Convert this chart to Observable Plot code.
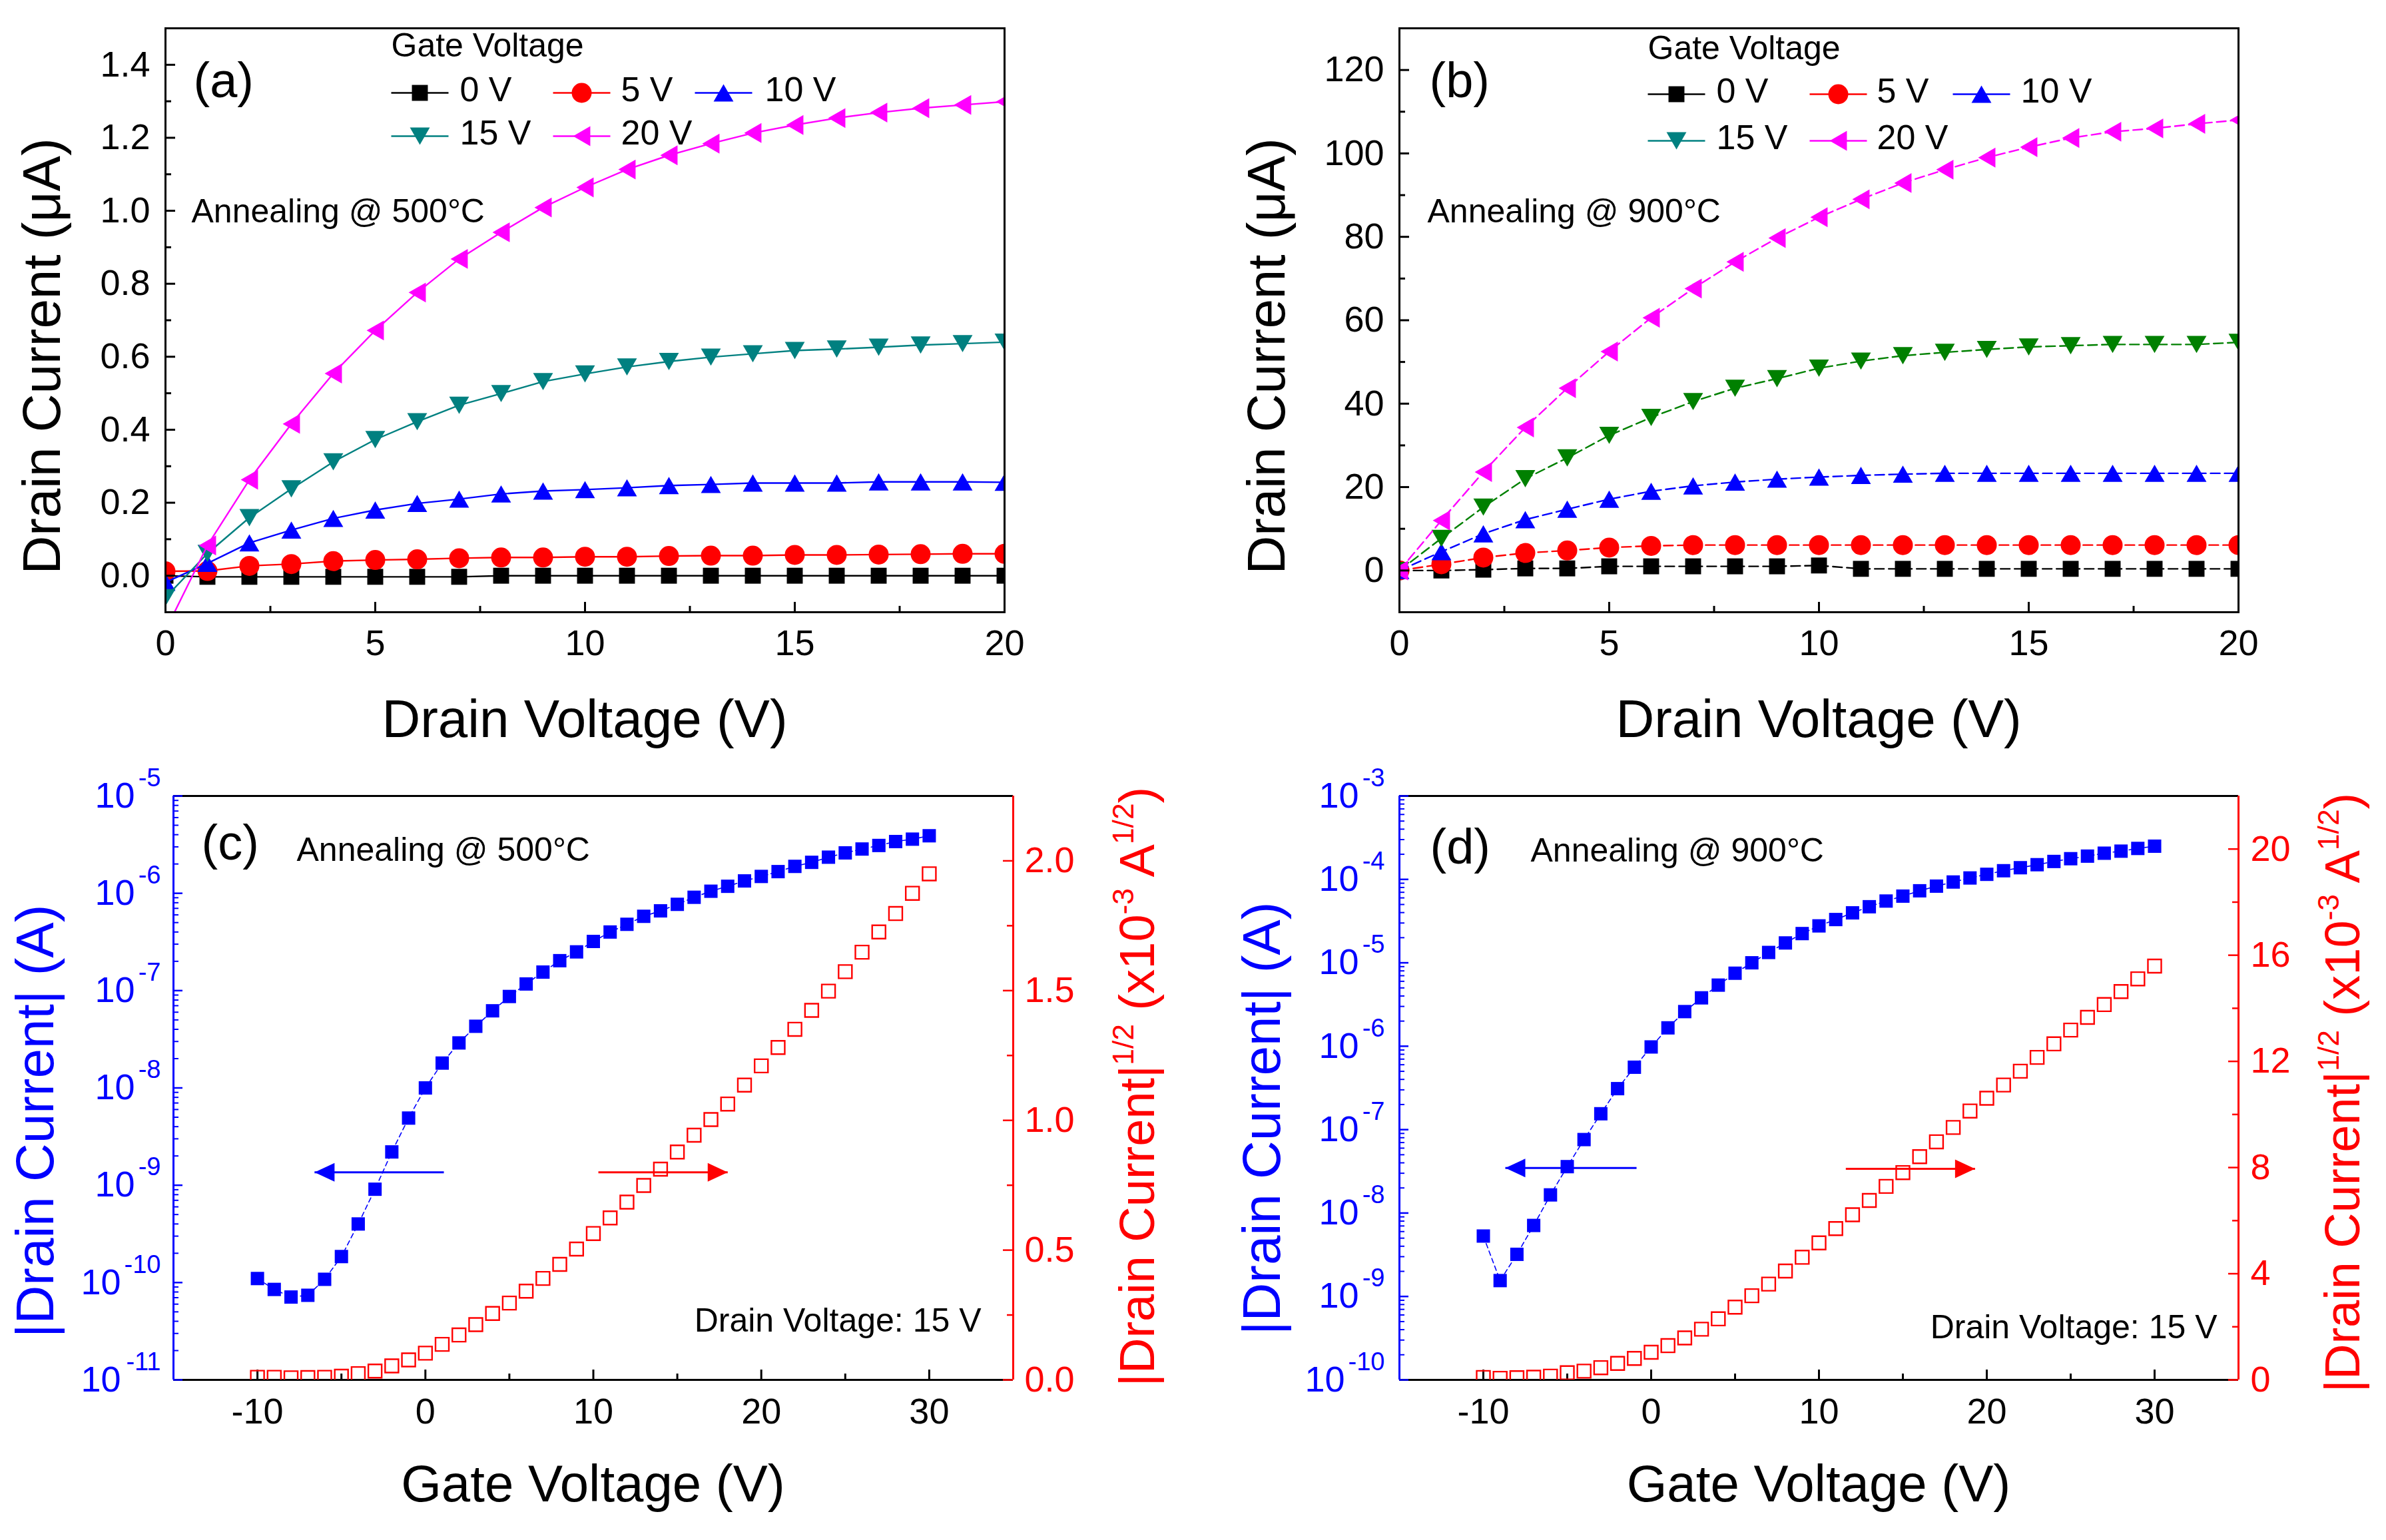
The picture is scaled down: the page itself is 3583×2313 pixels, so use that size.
<!DOCTYPE html>
<html><head><meta charset="utf-8">
<script src="https://cdn.jsdelivr.net/npm/d3@7"></script>
<script src="https://cdn.jsdelivr.net/npm/@observablehq/plot@0.6"></script>
<style>
html,body{margin:0;padding:0;background:#fff;overflow:hidden}
#fig{position:relative;width:3583px;height:2313px;background:#fff}
</style>
</head><body><div id="fig"></div>
<script>
const FONT = '"Liberation Sans", Arial, Helvetica, sans-serif';

// ---------------- data ----------------
const drainVoltage = [0,1,2,3,4,5,6,7,8,9,10,11,12,13,14,15,16,17,18,19,20];
const gateSeries = ["0 V","5 V","10 V","15 V","20 V"];
// (a) annealing 500 °C, drain current in µA
const a0V  = [0,-0.003,-0.003,-0.003,-0.003,-0.003,-0.003,-0.003,0,0,0,0,0,0,0,0,0,0,0,0,0];
const a5V  = [0.012,0.013,0.027,0.032,0.040,0.043,0.045,0.048,0.050,0.050,0.052,0.052,0.054,0.055,0.055,0.057,0.057,0.058,0.059,0.060,0.060];
const a10V = [-0.018,0.034,0.090,0.125,0.157,0.180,0.198,0.210,0.224,0.232,0.236,0.241,0.247,0.250,0.254,0.254,0.254,0.257,0.257,0.257,0.256];
const a15V = [-0.06,0.061,0.159,0.238,0.312,0.373,0.422,0.467,0.499,0.532,0.553,0.572,0.587,0.599,0.608,0.617,0.621,0.626,0.632,0.636,0.640];
const a20V = [-0.15,0.083,0.263,0.416,0.554,0.672,0.776,0.868,0.941,1.009,1.064,1.113,1.152,1.184,1.213,1.235,1.254,1.269,1.281,1.290,1.299];
// (b) annealing 900 °C, drain current in µA
const b0V  = [0,0,0.2,0.5,0.5,1.0,1.0,1.0,1.0,1.0,1.2,0.4,0.4,0.4,0.4,0.4,0.4,0.4,0.4,0.4,0.4];
const b5V  = [0,1.5,3.1,4.2,4.8,5.5,5.9,6.1,6.1,6.1,6.1,6.1,6.1,6.1,6.1,6.1,6.1,6.1,6.1,6.1,6.1];
const b10V = [0,4.5,8.8,12.2,14.7,17.1,19.0,20.3,21.2,21.9,22.4,22.8,23.1,23.3,23.3,23.3,23.3,23.3,23.3,23.3,23.3];
const b15V = [0,7.7,15.2,22.0,27.0,32.4,36.7,40.5,43.7,46.0,48.5,50.2,51.5,52.3,53.0,53.6,53.9,54.2,54.2,54.2,54.7];
const b20V = [0,12.0,23.6,34.3,43.7,52.5,60.6,67.6,74.0,79.7,84.7,89.0,92.9,96.1,99.0,101.5,103.7,105.2,106.0,107.1,108.0];

const gateVoltage = [-10,-9,-8,-7,-6,-5,-4,-3,-2,-1,0,1,2,3,4,5,6,7,8,9,10,11,12,13,14,15,16,17,18,19,20,21,22,23,24,25,26,27,28,29,30];
// (c) |Id| (A) and |Id|^1/2 (x1e-3 A^1/2)
const cAbsCurrent = [1.1e-10,8.5e-11,7.1e-11,7.4e-11,1.08e-10,1.85e-10,4.0e-10,9.1e-10,2.2e-9,4.9e-9,1.0e-8,1.8e-8,2.9e-8,4.3e-8,6.2e-8,8.7e-8,1.17e-7,1.55e-7,2.03e-7,2.5e-7,3.2e-7,4.0e-7,4.8e-7,5.8e-7,6.6e-7,7.7e-7,9.1e-7,1.05e-6,1.18e-6,1.34e-6,1.49e-6,1.67e-6,1.89e-6,2.08e-6,2.35e-6,2.6e-6,2.85e-6,3.1e-6,3.4e-6,3.6e-6,3.9e-6];
const cSqrtCurrent = [0.01,0.01,0.008,0.009,0.01,0.014,0.024,0.034,0.054,0.077,0.103,0.137,0.173,0.213,0.256,0.296,0.342,0.391,0.445,0.504,0.564,0.624,0.685,0.749,0.812,0.878,0.943,1.003,1.063,1.136,1.21,1.281,1.351,1.424,1.498,1.573,1.648,1.726,1.797,1.875,1.95];
// (d)
const dAbsCurrent = [5.3e-9,1.55e-9,3.2e-9,7.1e-9,1.65e-8,3.6e-8,7.6e-8,1.55e-7,3.1e-7,5.6e-7,9.8e-7,1.66e-6,2.6e-6,3.8e-6,5.4e-6,7.5e-6,1.0e-5,1.33e-5,1.73e-5,2.24e-5,2.77e-5,3.3e-5,3.97e-5,4.7e-5,5.5e-5,6.3e-5,7.3e-5,8.3e-5,9.3e-5,1.04e-4,1.15e-4,1.27e-4,1.38e-4,1.5e-4,1.64e-4,1.77e-4,1.9e-4,2.06e-4,2.18e-4,2.35e-4,2.5e-4];
const dSqrtCurrent = [0.09,0.06,0.08,0.1,0.14,0.27,0.33,0.46,0.62,0.81,1.04,1.29,1.58,1.91,2.30,2.74,3.17,3.61,4.10,4.62,5.16,5.70,6.22,6.76,7.29,7.81,8.41,8.97,9.51,10.13,10.61,11.11,11.63,12.15,12.66,13.18,13.66,14.14,14.63,15.11,15.59];

// arrows (data coordinates)
const cArrowLeft  = {from: 1.1,  to: -6.6, level: 1.36e-9};
const cArrowRight = {from: 10.3, to: 18.0, level: 0.80};
const dArrowLeft  = {from: -0.87, to: -8.69, level: 3.47e-8};
const dArrowRight = {from: 11.6, to: 19.3, level: 7.95};

// ticks
const ivXTicks = [0,5,10,15,20];
const ivXMinor = [2.5,7.5,12.5,17.5];
const aYTicks = [0,0.2,0.4,0.6,0.8,1.0,1.2,1.4];
const aYTickLabels = ["0.0","0.2","0.4","0.6","0.8","1.0","1.2","1.4"];
const aYMinor = [0.1,0.3,0.5,0.7,0.9,1.1,1.3];
const bYTicks = [0,20,40,60,80,100,120];
const bYTickLabels = ["0","20","40","60","80","100","120"];
const bYMinor = [10,30,50,70,90,110];
const tfXTicks = [-10,0,10,20,30];
const tfXMinor = [-5,5,15,25];
const cLogExponents = [-11,-10,-9,-8,-7,-6,-5];
const dLogExponents = [-10,-9,-8,-7,-6,-5,-4,-3];
const cRightTicks = [0,0.5,1.0,1.5,2.0];
const cRightLabels = ["0.0","0.5","1.0","1.5","2.0"];
const cRightMinor = [0.25,0.75,1.25,1.75];
const dRightTicks = [0,4,8,12,16,20];
const dRightLabels = ["0","4","8","12","16","20"];
const dRightMinor = [2,6,10,14,18];

// ---------------- symbols ----------------
function triDims(size){ const r = Math.sqrt(size/Math.PI); const a = 2.3*r; return [a, 0.866*a]; }
const triUp = {draw(c,s){const [a,h]=triDims(s); c.moveTo(0,-h/2); c.lineTo(a/2,h/2); c.lineTo(-a/2,h/2); c.closePath();}};
const triDown = {draw(c,s){const [a,h]=triDims(s); c.moveTo(0,h/2); c.lineTo(a/2,-h/2); c.lineTo(-a/2,-h/2); c.closePath();}};
const triLeft = {draw(c,s){const [a,h]=triDims(s); c.moveTo(-h/2,0); c.lineTo(h/2,-a/2); c.lineTo(h/2,a/2); c.closePath();}};
const headLeft = {draw(c){c.moveTo(0,0); c.lineTo(30,-14); c.lineTo(30,14); c.closePath();}};
const headRight = {draw(c){c.moveTo(0,0); c.lineTo(-30,-14); c.lineTo(-30,14); c.closePath();}};
const legendLine = {draw(c){c.moveTo(-43,0); c.lineTo(43,0);}};

const seriesStyle = {
  "0 V":  {color:"#000000", symbol:"square", r:13.5},
  "5 V":  {color:"#ff0000", symbol:"circle", r:15},
  "10 V": {color:"#0000ff", symbol:triUp, r:13},
  "15 V": {color:"#008080", symbol:triDown, r:13},
  "20 V": {color:"#ff00ff", symbol:triLeft, r:13}
};

const fig = document.getElementById("fig");

function addTitle(svg, {x, y, rotate = 0, size, fill = "#000", parts}) {
  const t = d3.select(svg).append("text")
    .attr("transform", `translate(${x},${y})` + (rotate ? ` rotate(${rotate})` : ""))
    .attr("text-anchor", "middle").attr("font-size", size).attr("fill", fill)
    .attr("font-family", FONT);
  let raised = false;
  const shift = size * 0.42;
  for (const p of parts) {
    const ts = t.append("tspan").text(p.t);
    if (p.sup && !raised) { ts.attr("dy", -shift); raised = true; }
    else if (!p.sup && raised) { ts.attr("dy", shift); raised = false; }
    ts.attr("font-size", p.sup ? size * 0.6 : size);
  }
}

function place(svg, left, top) {
  svg.style.position = "absolute";
  svg.style.left = left + "px";
  svg.style.top = top + "px";
  fig.appendChild(svg);
}

// ---------------- output panels ----------------
function ivPanel(p) {
  const fw = p.width - p.margin.left - p.margin.right;
  const fh = p.height - p.margin.top - p.margin.bottom;
  const marks = [];
  gateSeries.forEach((name, k) => {
    const st = seriesStyle[name];
    const col = (p.curveColor && p.curveColor[name]) || st.color;
    const rows = drainVoltage.map((v, i) => ({vd: v, id: p.values[k][i]}));
    marks.push(Plot.line(rows, {x: "vd", y: "id", stroke: col, strokeWidth: 2.4, strokeDasharray: p.dash, clip: true}));
    marks.push(Plot.dot(rows, {x: "vd", y: "id", symbol: st.symbol, r: st.r, fill: col, stroke: "none", clip: true}));
  });
  marks.push(Plot.frame({stroke: "#000", strokeWidth: 3}));
  marks.push(Plot.ruleY(p.yTicks, {y: d => d, stroke: "#000", strokeWidth: 3, insetRight: fw - 15}));
  marks.push(Plot.ruleY(p.yMinor, {y: d => d, stroke: "#000", strokeWidth: 3, insetRight: fw - 9}));
  marks.push(Plot.ruleX(ivXTicks, {x: d => d, stroke: "#000", strokeWidth: 3, insetTop: fh - 15}));
  marks.push(Plot.ruleX(ivXMinor, {x: d => d, stroke: "#000", strokeWidth: 3, insetTop: fh - 9}));
  marks.push(Plot.text(p.yTicks, {y: d => d, frameAnchor: "left", text: (d, i) => p.yTickLabels[i], textAnchor: "end", lineAnchor: "middle", dx: -23, fontSize: 54, fill: "#000"}));
  marks.push(Plot.text(ivXTicks, {x: d => d, frameAnchor: "bottom", text: d => String(d), lineAnchor: "top", dy: 26, fontSize: 54, fill: "#000"}));
  // annotations
  marks.push(Plot.text([p.tag], {frameAnchor: "top-left", text: d => d, textAnchor: "start", lineAnchor: "middle", dx: p.tagDx, dy: 80, fontSize: 74, fill: "#000"}));
  marks.push(Plot.text([p.anneal], {frameAnchor: "top-left", text: d => d, textAnchor: "start", lineAnchor: "middle", dx: p.annealDx, dy: 275, fontSize: 50, fill: "#000"}));
  // legend
  const L = p.legend;
  marks.push(Plot.text(["Gate Voltage"], {frameAnchor: "top-left", text: d => d, textAnchor: "start", lineAnchor: "middle", dx: L.titleDx, dy: L.titleDy, fontSize: 50, fill: "#000"}));
  gateSeries.forEach((name, k) => {
    const st = seriesStyle[name];
    const col = k < 3 ? k : k - 3, row = k < 3 ? 0 : 1;
    const cx = L.colCenter[col], cy = L.rowY[row];
    marks.push(Plot.dot([name], {frameAnchor: "top-left", dx: cx, dy: cy, symbol: legendLine, stroke: st.color, fill: "none", strokeWidth: 2.4}));
    marks.push(Plot.dot([name], {frameAnchor: "top-left", dx: cx, dy: cy, symbol: st.symbol, r: st.r, fill: st.color, stroke: "none"}));
    marks.push(Plot.text([name], {frameAnchor: "top-left", text: d => d, textAnchor: "start", lineAnchor: "middle", dx: L.colText[col], dy: cy - 4, fontSize: 52, fill: "#000"}));
  });
  const svg = Plot.plot({
    width: p.width, height: p.height,
    marginTop: p.margin.top, marginRight: p.margin.right, marginBottom: p.margin.bottom, marginLeft: p.margin.left,
    x: {domain: [0, 20], axis: null},
    y: {domain: p.yDomain, axis: null},
    style: {fontFamily: FONT, background: "transparent", overflow: "visible"},
    marks
  });
  place(svg, p.left, p.top);
  addTitle(svg, {x: p.yTitleX, y: 535, rotate: -90, size: 80, parts: [{t: "Drain Current (μA)"}]});
  addTitle(svg, {x: p.margin.left + fw / 2, y: 1107, size: 80, parts: [{t: "Drain Voltage (V)"}]});
}

ivPanel({
  left: 0, top: 0, width: 1790, height: 1150,
  margin: {top: 42, right: 282, bottom: 231, left: 248},
  values: [a0V, a5V, a10V, a15V, a20V],
  yDomain: [-0.1, 1.5], yTicks: aYTicks, yTickLabels: aYTickLabels, yMinor: aYMinor,
  dash: null, tag: "(a)", tagDx: 42, anneal: "Annealing @ 500°C", annealDx: 39,
  legend: {titleDx: 339, titleDy: 26, rowY: [97, 162], colCenter: [382, 625, 838], colText: [442, 684, 900]},
  yTitleX: 90
});
ivPanel({
  left: 1790, top: 0, width: 1793, height: 1150,
  margin: {top: 42, right: 222, bottom: 231, left: 311},
  values: [b0V, b5V, b10V, b15V, b20V],
  yDomain: [-10, 130], yTicks: bYTicks, yTickLabels: bYTickLabels, yMinor: bYMinor,
  dash: "14,7", curveColor: {"15 V": "#008000"},
  tag: "(b)", tagDx: 45, anneal: "Annealing @ 900°C", annealDx: 42,
  legend: {titleDx: 373, titleDy: 30, rowY: [99, 169], colCenter: [416, 659, 874], colText: [476, 717, 933]},
  yTitleX: 1929 - 1790
});

// ---------------- transfer panels ----------------
function tfPanel(p) {
  const fw = p.width - p.margin.left - p.margin.right;
  const fh = p.height - p.margin.top - p.margin.bottom;
  const blue = "#0000ff", red = "#ff0000";
  const [e0, e1] = [p.exponents[0], p.exponents[p.exponents.length - 1]];
  const minor = [];
  for (let e = e0; e < e1; e++) for (let m = 2; m <= 9; m++) minor.push(m * Math.pow(10, e));
  const rows = gateVoltage.map((v, i) => ({vg: v, id: p.abs[i], sq: p.sqrt[i]}));
  const common = {
    width: p.width, height: p.height,
    marginTop: p.margin.top, marginRight: p.margin.right, marginBottom: p.margin.bottom, marginLeft: p.margin.left,
    x: {domain: [-15, 35], axis: null},
    style: {fontFamily: FONT, background: "transparent", overflow: "visible"}
  };
  const oneDigit = p.exponents.filter(e => e > -10);
  const twoDigit = p.exponents.filter(e => e <= -10);
  const logSvg = Plot.plot({
    ...common,
    y: {type: "log", domain: [Math.pow(10, e0), Math.pow(10, e1)], axis: null},
    marks: [
      Plot.line(rows, {x: "vg", y: "id", stroke: blue, strokeWidth: 1.6, strokeDasharray: "7,5", clip: true}),
      Plot.dot(rows, {x: "vg", y: "id", symbol: "square", r: 11.3, fill: blue, stroke: "none", clip: true}),
      Plot.link([p.arrowL], {x1: d => d.from, x2: d => d.to, y1: d => d.level, y2: d => d.level, stroke: blue, strokeWidth: 3}),
      Plot.dot([p.arrowL], {x: d => d.to, y: d => d.level, symbol: headLeft, fill: blue, stroke: "none"}),
      Plot.ruleY([Math.pow(10, e0), Math.pow(10, e1)], {y: d => d, stroke: "#000", strokeWidth: 3}),
      Plot.ruleX([-15], {x: d => d, stroke: blue, strokeWidth: 3}),
      Plot.ruleY(p.exponents.map(e => Math.pow(10, e)), {y: d => d, stroke: blue, strokeWidth: 2.5, insetRight: fw - 14}),
      Plot.ruleY(minor, {y: d => d, stroke: blue, strokeWidth: 2, insetRight: fw - 8}),
      Plot.ruleX(tfXTicks, {x: d => d, stroke: "#000", strokeWidth: 3, insetTop: fh - 15}),
      Plot.ruleX(tfXMinor, {x: d => d, stroke: "#000", strokeWidth: 3, insetTop: fh - 9}),
      Plot.text(tfXTicks, {x: d => d, frameAnchor: "bottom", text: d => String(d), lineAnchor: "top", dy: 27, fontSize: 54, fill: "#000"}),
      Plot.text(p.exponents, {y: e => Math.pow(10, e), frameAnchor: "left", text: e => String(e), textAnchor: "end", lineAnchor: "middle", dx: p.labDx, dy: -27, fontSize: 38, fill: blue}),
      Plot.text(oneDigit, {y: e => Math.pow(10, e), frameAnchor: "left", text: () => "10", textAnchor: "end", lineAnchor: "middle", dx: p.labDx - 39, fontSize: 54, fill: blue}),
      Plot.text(twoDigit, {y: e => Math.pow(10, e), frameAnchor: "left", text: () => "10", textAnchor: "end", lineAnchor: "middle", dx: p.labDx - 60, fontSize: 54, fill: blue}),
      Plot.text([p.tag], {frameAnchor: "top-left", text: d => d, textAnchor: "start", lineAnchor: "middle", dx: p.tagDx, dy: p.tagDy, fontSize: 74, fill: "#000"}),
      Plot.text([p.anneal], {frameAnchor: "top-left", text: d => d, textAnchor: "start", lineAnchor: "middle", dx: p.annealDx, dy: p.annealDy, fontSize: 50, fill: "#000"}),
      Plot.text(["Drain Voltage: 15 V"], {frameAnchor: "bottom-right", text: d => d, textAnchor: "end", lineAnchor: "middle", dx: p.vdDx, dy: p.vdDy, fontSize: 50, fill: "#000"})
    ]
  });
  const linSvg = Plot.plot({
    ...common,
    y: {domain: p.rightDomain, axis: null},
    marks: [
      Plot.dot(rows, {x: "vg", y: "sq", symbol: "square", r: 11.3, fill: "none", stroke: red, strokeWidth: 2.4, clip: true}),
      Plot.link([p.arrowR], {x1: d => d.from, x2: d => d.to, y1: d => d.level, y2: d => d.level, stroke: red, strokeWidth: 3}),
      Plot.dot([p.arrowR], {x: d => d.to, y: d => d.level, symbol: headRight, fill: red, stroke: "none"}),
      Plot.ruleX([35], {x: d => d, stroke: red, strokeWidth: 3}),
      Plot.ruleY(p.rightTicks, {y: d => d, stroke: red, strokeWidth: 2.5, insetLeft: fw - 15}),
      Plot.ruleY(p.rightMinor, {y: d => d, stroke: red, strokeWidth: 2.5, insetLeft: fw - 9}),
      Plot.text(p.rightTicks, {y: d => d, frameAnchor: "right", text: (d, i) => p.rightLabels[i], textAnchor: "start", lineAnchor: "middle", dx: p.rDx, fontSize: 54, fill: red})
    ]
  });
  place(logSvg, p.left, p.top);
  place(linSvg, p.left, p.top);
  addTitle(logSvg, {x: p.lTitleX, y: p.lTitleY, rotate: -90, size: 80, fill: blue, parts: [{t: "|Drain Current| (A)"}]});
  addTitle(logSvg, {x: p.margin.left + fw / 2, y: 2255 - 1150, size: 78, parts: [{t: "Gate Voltage (V)"}]});
  addTitle(linSvg, {x: p.rTitleX, y: p.rTitleY, rotate: -90, size: 74, fill: red,
    parts: [{t: "|Drain Current|"}, {t: "1/2", sup: true}, {t: " (x10"}, {t: "-3", sup: true}, {t: " A"}, {t: "1/2", sup: true}, {t: ")"}]});
}

tfPanel({
  left: 0, top: 1150, width: 1790, height: 1163,
  margin: {top: 45, right: 269, bottom: 241, left: 260},
  abs: cAbsCurrent, sqrt: cSqrtCurrent, exponents: cLogExponents,
  rightDomain: [0, 2.25], rightTicks: cRightTicks, rightLabels: cRightLabels, rightMinor: cRightMinor,
  arrowL: cArrowLeft, arrowR: cArrowRight,
  labDx: -19, rDx: 17,
  tag: "(c)", tagDx: 42, tagDy: 72, anneal: "Annealing @ 500°C", annealDx: 185, annealDy: 81,
  vdDx: -48, vdDy: -89,
  lTitleX: 80, lTitleY: 1684 - 1150, rTitleX: 1733, rTitleY: 1632 - 1150
});
tfPanel({
  left: 1790, top: 1150, width: 1793, height: 1163,
  margin: {top: 45, right: 222, bottom: 241, left: 311},
  abs: dAbsCurrent, sqrt: dSqrtCurrent, exponents: dLogExponents,
  rightDomain: [0, 22], rightTicks: dRightTicks, rightLabels: dRightLabels, rightMinor: dRightMinor,
  arrowL: dArrowLeft, arrowR: dArrowRight,
  labDx: -22, rDx: 18,
  tag: "(d)", tagDx: 46, tagDy: 78, anneal: "Annealing @ 900°C", annealDx: 197, annealDy: 82,
  vdDx: -32, vdDy: -79,
  lTitleX: 1922 - 1790, lTitleY: 1680 - 1150, rTitleX: 3543 - 1790, rTitleY: 1641 - 1150
});
</script>
</body></html>
